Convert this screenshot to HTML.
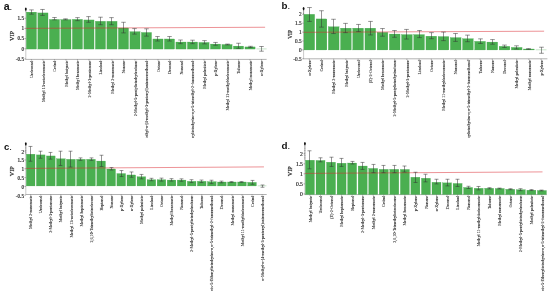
<!DOCTYPE html>
<html lang="en"><head><meta charset="utf-8"><title>VIP scores</title>
<style>html,body{margin:0;padding:0;background:#fff}svg{display:block}.t{font-family:"Liberation Serif","DejaVu Serif",serif;fill:#1a1a1a}.b{stroke:#1a1a1a;stroke-width:.16px}.c{stroke:#1a1a1a;stroke-width:.07px}.l{font-family:"Liberation Sans","DejaVu Sans",sans-serif;font-weight:bold;fill:#111}</style></head><body>
<svg width="550" height="295" viewBox="0 0 550 295">
<rect width="550" height="295" fill="#fff"/>
<g id="chart-a">
<clipPath id="clip-a"><rect x="-0.2" y="0" width="275" height="137.8"/></clipPath>
<text class="l" x="3.7" y="9.7" font-size="10.6">a<tspan fill="#333" font-size="7.5" dx="0.2">.</tspan></text>
<path d="M25.80 8.50V59.40" stroke="#9a9a9a" stroke-width="0.55" fill="none"/>
<path d="M25.80 8.50V12.12" stroke="#333" stroke-width="0.5" stroke-dasharray="1.2 0.5" fill="none"/>
<path d="M25.55 59.40H266.60" stroke="#7d7d7d" stroke-width="0.6" fill="none"/>
<rect x="26.35" y="12.12" width="10.15" height="36.93" fill="#4aaf50" stroke="#3a9f43" stroke-width="0.25"/>
<rect x="37.86" y="12.93" width="10.15" height="36.12" fill="#4aaf50" stroke="#3a9f43" stroke-width="0.25"/>
<rect x="49.36" y="19.45" width="10.15" height="29.60" fill="#4aaf50" stroke="#3a9f43" stroke-width="0.25"/>
<rect x="60.87" y="19.55" width="10.15" height="29.50" fill="#4aaf50" stroke="#3a9f43" stroke-width="0.25"/>
<rect x="72.37" y="19.34" width="10.15" height="29.71" fill="#4aaf50" stroke="#3a9f43" stroke-width="0.25"/>
<rect x="83.88" y="19.95" width="10.15" height="29.10" fill="#4aaf50" stroke="#3a9f43" stroke-width="0.25"/>
<rect x="95.38" y="21.28" width="10.15" height="27.77" fill="#4aaf50" stroke="#3a9f43" stroke-width="0.25"/>
<rect x="106.89" y="21.28" width="10.15" height="27.77" fill="#4aaf50" stroke="#3a9f43" stroke-width="0.25"/>
<rect x="118.39" y="27.99" width="10.15" height="21.06" fill="#4aaf50" stroke="#3a9f43" stroke-width="0.25"/>
<rect x="129.90" y="31.66" width="10.15" height="17.39" fill="#4aaf50" stroke="#3a9f43" stroke-width="0.25"/>
<rect x="141.40" y="32.47" width="10.15" height="16.58" fill="#4aaf50" stroke="#3a9f43" stroke-width="0.25"/>
<rect x="152.91" y="38.98" width="10.15" height="10.07" fill="#4aaf50" stroke="#3a9f43" stroke-width="0.25"/>
<rect x="164.41" y="38.98" width="10.15" height="10.07" fill="#4aaf50" stroke="#3a9f43" stroke-width="0.25"/>
<rect x="175.91" y="42.03" width="10.15" height="7.02" fill="#4aaf50" stroke="#3a9f43" stroke-width="0.25"/>
<rect x="187.42" y="42.03" width="10.15" height="7.02" fill="#4aaf50" stroke="#3a9f43" stroke-width="0.25"/>
<rect x="198.93" y="42.44" width="10.15" height="6.61" fill="#4aaf50" stroke="#3a9f43" stroke-width="0.25"/>
<rect x="210.43" y="44.07" width="10.15" height="4.98" fill="#4aaf50" stroke="#3a9f43" stroke-width="0.25"/>
<rect x="221.94" y="44.48" width="10.15" height="4.57" fill="#4aaf50" stroke="#3a9f43" stroke-width="0.25"/>
<rect x="233.44" y="46.10" width="10.15" height="2.95" fill="#4aaf50" stroke="#3a9f43" stroke-width="0.25"/>
<rect x="244.95" y="46.92" width="10.15" height="2.13" fill="#4aaf50" stroke="#3a9f43" stroke-width="0.25"/>
<line x1="256.45" y1="48.90" x2="266.60" y2="48.90" stroke="#4aaf50" stroke-width="0.5" stroke-opacity="0.6"/>
<line x1="25.80" y1="28.35" x2="265.10" y2="27.25" stroke="#dc2830" stroke-width="1" stroke-opacity="0.5"/>
<path d="M31.50 9.88V14.16M29.27 9.88h4.47M29.27 14.16h4.47" stroke="#333" stroke-width="0.52" fill="none"/>
<path d="M42.50 9.47V15.38M40.27 9.47h4.47M40.27 15.38h4.47" stroke="#333" stroke-width="0.52" fill="none"/>
<path d="M54.50 17.51V19.85M52.27 17.51h4.47M52.27 19.85h4.47" stroke="#333" stroke-width="0.52" fill="none"/>
<path d="M65.50 18.84V19.85M63.27 18.84h4.47M63.27 19.85h4.47" stroke="#333" stroke-width="0.52" fill="none"/>
<path d="M77.50 17.61V20.67M75.27 17.61h4.47M75.27 20.67h4.47" stroke="#333" stroke-width="0.52" fill="none"/>
<path d="M88.50 16.60V22.29M86.27 16.60h4.47M86.27 22.29h4.47" stroke="#333" stroke-width="0.52" fill="none"/>
<path d="M100.50 17.21V24.74M98.27 17.21h4.47M98.27 24.74h4.47" stroke="#333" stroke-width="0.52" fill="none"/>
<path d="M111.50 17.61V24.74M109.27 17.61h4.47M109.27 24.74h4.47" stroke="#333" stroke-width="0.52" fill="none"/>
<path d="M123.50 22.29V32.88M121.27 22.29h4.47M121.27 32.88h4.47" stroke="#333" stroke-width="0.52" fill="none"/>
<path d="M134.50 28.60V34.10M132.27 28.60h4.47M132.27 34.10h4.47" stroke="#333" stroke-width="0.52" fill="none"/>
<path d="M146.50 28.81V36.13M144.27 28.81h4.47M144.27 36.13h4.47" stroke="#333" stroke-width="0.52" fill="none"/>
<path d="M157.50 36.54V41.02M155.27 36.54h4.47M155.27 41.02h4.47" stroke="#333" stroke-width="0.52" fill="none"/>
<path d="M169.50 36.54V41.02M167.27 36.54h4.47M167.27 41.02h4.47" stroke="#333" stroke-width="0.52" fill="none"/>
<path d="M180.50 40.00V43.66M178.27 40.00h4.47M178.27 43.66h4.47" stroke="#333" stroke-width="0.52" fill="none"/>
<path d="M192.50 40.20V43.66M190.27 40.20h4.47M190.27 43.66h4.47" stroke="#333" stroke-width="0.52" fill="none"/>
<path d="M204.50 40.61V43.87M202.27 40.61h4.47M202.27 43.87h4.47" stroke="#333" stroke-width="0.52" fill="none"/>
<path d="M215.50 42.44V45.29M213.27 42.44h4.47M213.27 45.29h4.47" stroke="#333" stroke-width="0.52" fill="none"/>
<path d="M227.50 44.07V44.88M225.27 44.07h4.47M225.27 44.88h4.47" stroke="#333" stroke-width="0.52" fill="none"/>
<path d="M238.50 43.26V48.34M236.27 43.26h4.47M236.27 48.34h4.47" stroke="#333" stroke-width="0.52" fill="none"/>
<path d="M250.50 46.31V47.53M248.27 46.31h4.47M248.27 47.53h4.47" stroke="#333" stroke-width="0.52" fill="none"/>
<path d="M261.50 46.51V51.19M259.27 46.51h4.47M259.27 51.19h4.47" stroke="#333" stroke-width="0.52" fill="none"/>
<ellipse cx="25.80" cy="9.10" rx="0.9" ry="1.6" fill="#111"/>
<line x1="24.50" y1="18.22" x2="25.80" y2="18.22" stroke="#555" stroke-width="0.5"/>
<text class="t b" x="24.10" y="20.03" font-size="5.3" text-anchor="end">1.5</text>
<line x1="24.50" y1="28.40" x2="25.80" y2="28.40" stroke="#555" stroke-width="0.5"/>
<text class="t b" x="24.10" y="30.20" font-size="5.3" text-anchor="end">1</text>
<line x1="24.50" y1="38.58" x2="25.80" y2="38.58" stroke="#555" stroke-width="0.5"/>
<text class="t b" x="24.10" y="40.38" font-size="5.3" text-anchor="end">0.5</text>
<line x1="24.50" y1="48.75" x2="25.80" y2="48.75" stroke="#555" stroke-width="0.5"/>
<text class="t b" x="24.10" y="50.55" font-size="5.3" text-anchor="end">0</text>
<line x1="24.50" y1="58.92" x2="25.80" y2="58.92" stroke="#555" stroke-width="0.5"/>
<text class="t b" x="24.10" y="60.73" font-size="5.3" text-anchor="end">-0.5</text>
<text class="t b" transform="translate(14.40 36.00) rotate(-90)" font-size="6.2" text-anchor="middle">VIP</text>
<g clip-path="url(#clip-a)">
<line x1="31.43" y1="59.40" x2="31.43" y2="60.50" stroke="#555" stroke-width="0.5"/>
<text class="t c" transform="translate(33.02 60.60) rotate(-90)" font-size="4.10" text-anchor="end">Undecanal</text>
<line x1="42.93" y1="59.40" x2="42.93" y2="60.50" stroke="#555" stroke-width="0.5"/>
<text class="t c" transform="translate(44.53 60.60) rotate(-90)" font-size="4.10" text-anchor="end">Methyl 13-octadecenoate</text>
<line x1="54.44" y1="59.40" x2="54.44" y2="60.50" stroke="#555" stroke-width="0.5"/>
<text class="t c" transform="translate(56.04 60.60) rotate(-90)" font-size="4.10" text-anchor="end">Cedrol</text>
<line x1="65.94" y1="59.40" x2="65.94" y2="60.50" stroke="#555" stroke-width="0.5"/>
<text class="t c" transform="translate(67.54 60.60) rotate(-90)" font-size="4.10" text-anchor="end">Methyl butyrate</text>
<line x1="77.45" y1="59.40" x2="77.45" y2="60.50" stroke="#555" stroke-width="0.5"/>
<text class="t c" transform="translate(79.05 60.60) rotate(-90)" font-size="4.10" text-anchor="end">Methyl hexanoate</text>
<line x1="88.95" y1="59.40" x2="88.95" y2="60.50" stroke="#555" stroke-width="0.5"/>
<text class="t c" transform="translate(90.55 60.60) rotate(-90)" font-size="4.10" text-anchor="end">2-Methyl-3-pentanone</text>
<line x1="100.45" y1="59.40" x2="100.45" y2="60.50" stroke="#555" stroke-width="0.5"/>
<text class="t c" transform="translate(102.05 60.60) rotate(-90)" font-size="4.10" text-anchor="end">Linalool</text>
<line x1="111.96" y1="59.40" x2="111.96" y2="60.50" stroke="#555" stroke-width="0.5"/>
<text class="t c" transform="translate(113.56 60.60) rotate(-90)" font-size="4.10" text-anchor="end">Methyl 2-nonenoate</text>
<line x1="123.47" y1="59.40" x2="123.47" y2="60.50" stroke="#555" stroke-width="0.5"/>
<text class="t c" transform="translate(125.07 60.60) rotate(-90)" font-size="4.10" text-anchor="end">Nonane</text>
<line x1="134.97" y1="59.40" x2="134.97" y2="60.50" stroke="#555" stroke-width="0.5"/>
<text class="t c" transform="translate(136.57 60.60) rotate(-90)" font-size="4.10" text-anchor="end">2-Methyl-5-pentyltetrahydrofuran</text>
<line x1="146.47" y1="59.40" x2="146.47" y2="60.50" stroke="#555" stroke-width="0.5"/>
<text class="t c" transform="translate(148.07 60.60) rotate(-90)" font-size="4.10" text-anchor="end">α-Methyl-α-[4-methyl-3-pentenyl]oxiranemethanol</text>
<line x1="157.98" y1="59.40" x2="157.98" y2="60.50" stroke="#555" stroke-width="0.5"/>
<text class="t c" transform="translate(159.58 60.60) rotate(-90)" font-size="4.10" text-anchor="end">Octane</text>
<line x1="169.48" y1="59.40" x2="169.48" y2="60.50" stroke="#555" stroke-width="0.5"/>
<text class="t c" transform="translate(171.08 60.60) rotate(-90)" font-size="4.10" text-anchor="end">Decanal</text>
<line x1="180.99" y1="59.40" x2="180.99" y2="60.50" stroke="#555" stroke-width="0.5"/>
<text class="t c" transform="translate(182.59 60.60) rotate(-90)" font-size="4.10" text-anchor="end">Nonanal</text>
<line x1="192.50" y1="59.40" x2="192.50" y2="60.50" stroke="#555" stroke-width="0.5"/>
<text class="t c" transform="translate(194.09 60.60) rotate(-90)" font-size="4.10" text-anchor="end">cis-5-Ethenyltetrahydro-α,α-5-trimethyl-2-furanmethanol</text>
<line x1="204.00" y1="59.40" x2="204.00" y2="60.50" stroke="#555" stroke-width="0.5"/>
<text class="t c" transform="translate(205.60 60.60) rotate(-90)" font-size="4.10" text-anchor="end">Methyl palmitate</text>
<line x1="215.50" y1="59.40" x2="215.50" y2="60.50" stroke="#555" stroke-width="0.5"/>
<text class="t c" transform="translate(217.10 60.60) rotate(-90)" font-size="4.10" text-anchor="end">p-Xylene</text>
<line x1="227.01" y1="59.40" x2="227.01" y2="60.50" stroke="#555" stroke-width="0.5"/>
<text class="t c" transform="translate(228.61 60.60) rotate(-90)" font-size="4.10" text-anchor="end">Methyl 11-methyldodecanoate</text>
<line x1="238.51" y1="59.40" x2="238.51" y2="60.50" stroke="#555" stroke-width="0.5"/>
<text class="t c" transform="translate(240.11 60.60) rotate(-90)" font-size="4.10" text-anchor="end">Toluene</text>
<line x1="250.02" y1="59.40" x2="250.02" y2="60.50" stroke="#555" stroke-width="0.5"/>
<text class="t c" transform="translate(251.62 60.60) rotate(-90)" font-size="4.10" text-anchor="end">Methyl nonanoate</text>
<line x1="261.53" y1="59.40" x2="261.53" y2="60.50" stroke="#555" stroke-width="0.5"/>
<text class="t c" transform="translate(263.13 60.60) rotate(-90)" font-size="4.10" text-anchor="end">o-Xylene</text>
</g>
</g>
<g id="chart-b">
<clipPath id="clip-b"><rect x="277.6" y="0" width="275" height="137.6"/></clipPath>
<text class="l" x="281.6" y="9.3" font-size="9.8">b<tspan fill="#333" font-size="7.5" dx="0.2">.</tspan></text>
<path d="M303.60 8.00V58.80" stroke="#9a9a9a" stroke-width="0.55" fill="none"/>
<path d="M303.60 8.00V14.30" stroke="#333" stroke-width="0.5" stroke-dasharray="1.2 0.5" fill="none"/>
<path d="M303.35 58.80H547.40" stroke="#7d7d7d" stroke-width="0.6" fill="none"/>
<rect x="303.95" y="14.30" width="10.70" height="35.65" fill="#4aaf50" stroke="#3a9f43" stroke-width="0.25"/>
<rect x="316.15" y="18.93" width="10.70" height="31.02" fill="#4aaf50" stroke="#3a9f43" stroke-width="0.25"/>
<rect x="328.35" y="26.76" width="10.70" height="23.19" fill="#4aaf50" stroke="#3a9f43" stroke-width="0.25"/>
<rect x="340.55" y="28.18" width="10.70" height="21.77" fill="#4aaf50" stroke="#3a9f43" stroke-width="0.25"/>
<rect x="352.75" y="28.18" width="10.70" height="21.77" fill="#4aaf50" stroke="#3a9f43" stroke-width="0.25"/>
<rect x="364.95" y="28.18" width="10.70" height="21.77" fill="#4aaf50" stroke="#3a9f43" stroke-width="0.25"/>
<rect x="377.15" y="32.37" width="10.70" height="17.58" fill="#4aaf50" stroke="#3a9f43" stroke-width="0.25"/>
<rect x="389.35" y="34.06" width="10.70" height="15.89" fill="#4aaf50" stroke="#3a9f43" stroke-width="0.25"/>
<rect x="401.55" y="34.59" width="10.70" height="15.36" fill="#4aaf50" stroke="#3a9f43" stroke-width="0.25"/>
<rect x="413.75" y="34.59" width="10.70" height="15.36" fill="#4aaf50" stroke="#3a9f43" stroke-width="0.25"/>
<rect x="425.95" y="36.19" width="10.70" height="13.76" fill="#4aaf50" stroke="#3a9f43" stroke-width="0.25"/>
<rect x="438.15" y="36.55" width="10.70" height="13.40" fill="#4aaf50" stroke="#3a9f43" stroke-width="0.25"/>
<rect x="450.35" y="37.62" width="10.70" height="12.33" fill="#4aaf50" stroke="#3a9f43" stroke-width="0.25"/>
<rect x="462.55" y="38.69" width="10.70" height="11.26" fill="#4aaf50" stroke="#3a9f43" stroke-width="0.25"/>
<rect x="474.75" y="41.36" width="10.70" height="8.59" fill="#4aaf50" stroke="#3a9f43" stroke-width="0.25"/>
<rect x="486.95" y="42.07" width="10.70" height="7.88" fill="#4aaf50" stroke="#3a9f43" stroke-width="0.25"/>
<rect x="499.15" y="46.34" width="10.70" height="3.61" fill="#4aaf50" stroke="#3a9f43" stroke-width="0.25"/>
<rect x="511.35" y="47.41" width="10.70" height="2.54" fill="#4aaf50" stroke="#3a9f43" stroke-width="0.25"/>
<rect x="523.55" y="49.01" width="10.70" height="0.94" fill="#4aaf50" stroke="#3a9f43" stroke-width="0.25"/>
<line x1="535.75" y1="49.80" x2="546.45" y2="49.80" stroke="#4aaf50" stroke-width="0.5" stroke-opacity="0.6"/>
<line x1="303.60" y1="32.30" x2="544.10" y2="31.20" stroke="#dc2830" stroke-width="1" stroke-opacity="0.5"/>
<path d="M309.50 7.54V21.42M307.20 7.54h4.60M307.20 21.42h4.60" stroke="#333" stroke-width="0.52" fill="none"/>
<path d="M321.50 10.74V27.12M319.20 10.74h4.60M319.20 27.12h4.60" stroke="#333" stroke-width="0.52" fill="none"/>
<path d="M333.50 19.28V33.52M331.20 19.28h4.60M331.20 33.52h4.60" stroke="#333" stroke-width="0.52" fill="none"/>
<path d="M345.50 23.38V32.63M343.20 23.38h4.60M343.20 32.63h4.60" stroke="#333" stroke-width="0.52" fill="none"/>
<path d="M358.50 24.45V31.57M356.20 24.45h4.60M356.20 31.57h4.60" stroke="#333" stroke-width="0.52" fill="none"/>
<path d="M370.50 21.42V34.95M368.20 21.42h4.60M368.20 34.95h4.60" stroke="#333" stroke-width="0.52" fill="none"/>
<path d="M382.50 28.54V36.19M380.20 28.54h4.60M380.20 36.19h4.60" stroke="#333" stroke-width="0.52" fill="none"/>
<path d="M394.50 30.50V37.26M392.20 30.50h4.60M392.20 37.26h4.60" stroke="#333" stroke-width="0.52" fill="none"/>
<path d="M406.50 29.43V39.04M404.20 29.43h4.60M404.20 39.04h4.60" stroke="#333" stroke-width="0.52" fill="none"/>
<path d="M419.50 30.50V37.62M417.20 30.50h4.60M417.20 37.62h4.60" stroke="#333" stroke-width="0.52" fill="none"/>
<path d="M431.50 32.63V38.69M429.20 32.63h4.60M429.20 38.69h4.60" stroke="#333" stroke-width="0.52" fill="none"/>
<path d="M443.50 32.10V40.64M441.20 32.10h4.60M441.20 40.64h4.60" stroke="#333" stroke-width="0.52" fill="none"/>
<path d="M455.50 33.52V41.36M453.20 33.52h4.60M453.20 41.36h4.60" stroke="#333" stroke-width="0.52" fill="none"/>
<path d="M467.50 35.13V41.71M465.20 35.13h4.60M465.20 41.71h4.60" stroke="#333" stroke-width="0.52" fill="none"/>
<path d="M480.50 38.86V43.49M478.20 38.86h4.60M478.20 43.49h4.60" stroke="#333" stroke-width="0.52" fill="none"/>
<path d="M492.50 39.58V44.20M490.20 39.58h4.60M490.20 44.20h4.60" stroke="#333" stroke-width="0.52" fill="none"/>
<path d="M504.50 45.09V47.41M502.20 45.09h4.60M502.20 47.41h4.60" stroke="#333" stroke-width="0.52" fill="none"/>
<path d="M516.50 45.81V49.01M514.20 45.81h4.60M514.20 49.01h4.60" stroke="#333" stroke-width="0.52" fill="none"/>
<path d="M528.50 48.65V49.37M526.20 48.65h4.60M526.20 49.37h4.60" stroke="#333" stroke-width="0.52" fill="none"/>
<path d="M541.50 47.23V53.28M539.20 47.23h4.60M539.20 53.28h4.60" stroke="#333" stroke-width="0.52" fill="none"/>
<ellipse cx="303.60" cy="8.60" rx="0.9" ry="1.6" fill="#111"/>
<line x1="302.30" y1="14.30" x2="303.60" y2="14.30" stroke="#555" stroke-width="0.5"/>
<text class="t b" x="301.50" y="16.27" font-size="5.2" text-anchor="end">2</text>
<line x1="302.30" y1="23.20" x2="303.60" y2="23.20" stroke="#555" stroke-width="0.5"/>
<text class="t b" x="301.50" y="25.17" font-size="5.2" text-anchor="end">1.5</text>
<line x1="302.30" y1="32.10" x2="303.60" y2="32.10" stroke="#555" stroke-width="0.5"/>
<text class="t b" x="301.50" y="34.07" font-size="5.2" text-anchor="end">1</text>
<line x1="302.30" y1="41.00" x2="303.60" y2="41.00" stroke="#555" stroke-width="0.5"/>
<text class="t b" x="301.50" y="42.97" font-size="5.2" text-anchor="end">0.5</text>
<line x1="302.30" y1="49.90" x2="303.60" y2="49.90" stroke="#555" stroke-width="0.5"/>
<text class="t b" x="301.50" y="51.87" font-size="5.2" text-anchor="end">0</text>
<line x1="302.30" y1="58.80" x2="303.60" y2="58.80" stroke="#555" stroke-width="0.5"/>
<text class="t b" x="301.50" y="60.77" font-size="5.2" text-anchor="end">-0.5</text>
<text class="t b" transform="translate(291.90 34.40) rotate(-90)" font-size="5.8" text-anchor="middle">VIP</text>
<g clip-path="url(#clip-b)">
<line x1="309.30" y1="58.80" x2="309.30" y2="59.90" stroke="#555" stroke-width="0.5"/>
<text class="t c" transform="translate(310.90 60.20) rotate(-90)" font-size="4.15" text-anchor="end">o-Xylene</text>
<line x1="321.50" y1="58.80" x2="321.50" y2="59.90" stroke="#555" stroke-width="0.5"/>
<text class="t c" transform="translate(323.10 60.20) rotate(-90)" font-size="4.15" text-anchor="end">Cedrol</text>
<line x1="333.70" y1="58.80" x2="333.70" y2="59.90" stroke="#555" stroke-width="0.5"/>
<text class="t c" transform="translate(335.30 60.20) rotate(-90)" font-size="4.15" text-anchor="end">Methyl 2-nonenoate</text>
<line x1="345.90" y1="58.80" x2="345.90" y2="59.90" stroke="#555" stroke-width="0.5"/>
<text class="t c" transform="translate(347.50 60.20) rotate(-90)" font-size="4.15" text-anchor="end">Methyl butyrate</text>
<line x1="358.10" y1="58.80" x2="358.10" y2="59.90" stroke="#555" stroke-width="0.5"/>
<text class="t c" transform="translate(359.70 60.20) rotate(-90)" font-size="4.15" text-anchor="end">Undecanal</text>
<line x1="370.30" y1="58.80" x2="370.30" y2="59.90" stroke="#555" stroke-width="0.5"/>
<text class="t c" transform="translate(371.90 60.20) rotate(-90)" font-size="4.15" text-anchor="end">(E)-2-Octenal</text>
<line x1="382.50" y1="58.80" x2="382.50" y2="59.90" stroke="#555" stroke-width="0.5"/>
<text class="t c" transform="translate(384.10 60.20) rotate(-90)" font-size="4.15" text-anchor="end">Methyl hexanoate</text>
<line x1="394.70" y1="58.80" x2="394.70" y2="59.90" stroke="#555" stroke-width="0.5"/>
<text class="t c" transform="translate(396.30 60.20) rotate(-90)" font-size="4.15" text-anchor="end">2-Methyl-5-pentyltetrahydrofuran</text>
<line x1="406.90" y1="58.80" x2="406.90" y2="59.90" stroke="#555" stroke-width="0.5"/>
<text class="t c" transform="translate(408.50 60.20) rotate(-90)" font-size="4.15" text-anchor="end">2-Methyl-3-pentanone</text>
<line x1="419.10" y1="58.80" x2="419.10" y2="59.90" stroke="#555" stroke-width="0.5"/>
<text class="t c" transform="translate(420.70 60.20) rotate(-90)" font-size="4.15" text-anchor="end">Linalool</text>
<line x1="431.30" y1="58.80" x2="431.30" y2="59.90" stroke="#555" stroke-width="0.5"/>
<text class="t c" transform="translate(432.90 60.20) rotate(-90)" font-size="4.15" text-anchor="end">Octane</text>
<line x1="443.50" y1="58.80" x2="443.50" y2="59.90" stroke="#555" stroke-width="0.5"/>
<text class="t c" transform="translate(445.10 60.20) rotate(-90)" font-size="4.15" text-anchor="end">Methyl 11-methyldodecanoate</text>
<line x1="455.70" y1="58.80" x2="455.70" y2="59.90" stroke="#555" stroke-width="0.5"/>
<text class="t c" transform="translate(457.30 60.20) rotate(-90)" font-size="4.15" text-anchor="end">Nonanal</text>
<line x1="467.90" y1="58.80" x2="467.90" y2="59.90" stroke="#555" stroke-width="0.5"/>
<text class="t c" transform="translate(469.50 60.20) rotate(-90)" font-size="4.15" text-anchor="end">cis-5-Ethenyltetrahydro-α,α-5-trimethyl-2-furanmethanol</text>
<line x1="480.10" y1="58.80" x2="480.10" y2="59.90" stroke="#555" stroke-width="0.5"/>
<text class="t c" transform="translate(481.70 60.20) rotate(-90)" font-size="4.15" text-anchor="end">Toluene</text>
<line x1="492.30" y1="58.80" x2="492.30" y2="59.90" stroke="#555" stroke-width="0.5"/>
<text class="t c" transform="translate(493.90 60.20) rotate(-90)" font-size="4.15" text-anchor="end">Nonane</text>
<line x1="504.50" y1="58.80" x2="504.50" y2="59.90" stroke="#555" stroke-width="0.5"/>
<text class="t c" transform="translate(506.10 60.20) rotate(-90)" font-size="4.15" text-anchor="end">Decanal</text>
<line x1="516.70" y1="58.80" x2="516.70" y2="59.90" stroke="#555" stroke-width="0.5"/>
<text class="t c" transform="translate(518.30 60.20) rotate(-90)" font-size="4.15" text-anchor="end">Methyl palmitate</text>
<line x1="528.90" y1="58.80" x2="528.90" y2="59.90" stroke="#555" stroke-width="0.5"/>
<text class="t c" transform="translate(530.50 60.20) rotate(-90)" font-size="4.15" text-anchor="end">Methyl nonanoate</text>
<line x1="541.10" y1="58.80" x2="541.10" y2="59.90" stroke="#555" stroke-width="0.5"/>
<text class="t c" transform="translate(542.70 60.20) rotate(-90)" font-size="4.15" text-anchor="end">p-Xylene</text>
</g>
</g>
<g id="chart-c">
<clipPath id="clip-c"><rect x="-0.2" y="0" width="275" height="295.0"/></clipPath>
<text class="l" x="3.9" y="149.5" font-size="9.5">c<tspan fill="#333" font-size="7.5" dx="0.2">.</tspan></text>
<path d="M25.80 143.20V194.50" stroke="#9a9a9a" stroke-width="0.55" fill="none"/>
<path d="M25.80 143.20V154.19" stroke="#333" stroke-width="0.5" stroke-dasharray="1.2 0.5" fill="none"/>
<path d="M25.55 194.50H266.70" stroke="#7d7d7d" stroke-width="0.6" fill="none"/>
<rect x="26.35" y="154.19" width="8.65" height="31.76" fill="#4aaf50" stroke="#3a9f43" stroke-width="0.25"/>
<rect x="36.41" y="154.90" width="8.65" height="31.05" fill="#4aaf50" stroke="#3a9f43" stroke-width="0.25"/>
<rect x="46.47" y="155.95" width="8.65" height="30.00" fill="#4aaf50" stroke="#3a9f43" stroke-width="0.25"/>
<rect x="56.54" y="158.77" width="8.65" height="27.18" fill="#4aaf50" stroke="#3a9f43" stroke-width="0.25"/>
<rect x="66.60" y="159.30" width="8.65" height="26.65" fill="#4aaf50" stroke="#3a9f43" stroke-width="0.25"/>
<rect x="76.66" y="159.30" width="8.65" height="26.65" fill="#4aaf50" stroke="#3a9f43" stroke-width="0.25"/>
<rect x="86.72" y="159.30" width="8.65" height="26.65" fill="#4aaf50" stroke="#3a9f43" stroke-width="0.25"/>
<rect x="96.78" y="161.06" width="8.65" height="24.89" fill="#4aaf50" stroke="#3a9f43" stroke-width="0.25"/>
<rect x="106.85" y="168.98" width="8.65" height="16.97" fill="#4aaf50" stroke="#3a9f43" stroke-width="0.25"/>
<rect x="116.91" y="173.55" width="8.65" height="12.40" fill="#4aaf50" stroke="#3a9f43" stroke-width="0.25"/>
<rect x="126.97" y="174.96" width="8.65" height="10.99" fill="#4aaf50" stroke="#3a9f43" stroke-width="0.25"/>
<rect x="137.03" y="176.72" width="8.65" height="9.23" fill="#4aaf50" stroke="#3a9f43" stroke-width="0.25"/>
<rect x="147.09" y="179.71" width="8.65" height="6.24" fill="#4aaf50" stroke="#3a9f43" stroke-width="0.25"/>
<rect x="157.16" y="179.71" width="8.65" height="6.24" fill="#4aaf50" stroke="#3a9f43" stroke-width="0.25"/>
<rect x="167.22" y="180.06" width="8.65" height="5.89" fill="#4aaf50" stroke="#3a9f43" stroke-width="0.25"/>
<rect x="177.28" y="180.06" width="8.65" height="5.89" fill="#4aaf50" stroke="#3a9f43" stroke-width="0.25"/>
<rect x="187.34" y="181.30" width="8.65" height="4.65" fill="#4aaf50" stroke="#3a9f43" stroke-width="0.25"/>
<rect x="197.40" y="181.30" width="8.65" height="4.65" fill="#4aaf50" stroke="#3a9f43" stroke-width="0.25"/>
<rect x="207.47" y="181.65" width="8.65" height="4.30" fill="#4aaf50" stroke="#3a9f43" stroke-width="0.25"/>
<rect x="217.53" y="182.00" width="8.65" height="3.95" fill="#4aaf50" stroke="#3a9f43" stroke-width="0.25"/>
<rect x="227.59" y="182.00" width="8.65" height="3.95" fill="#4aaf50" stroke="#3a9f43" stroke-width="0.25"/>
<rect x="237.65" y="182.00" width="8.65" height="3.95" fill="#4aaf50" stroke="#3a9f43" stroke-width="0.25"/>
<rect x="247.71" y="182.35" width="8.65" height="3.60" fill="#4aaf50" stroke="#3a9f43" stroke-width="0.25"/>
<line x1="257.78" y1="185.80" x2="266.43" y2="185.80" stroke="#4aaf50" stroke-width="0.5" stroke-opacity="0.6"/>
<line x1="25.80" y1="168.40" x2="263.95" y2="166.90" stroke="#dc2830" stroke-width="1" stroke-opacity="0.5"/>
<path d="M30.50 146.45V161.23M28.60 146.45h3.81M28.60 161.23h3.81" stroke="#333" stroke-width="0.52" fill="none"/>
<path d="M40.50 151.20V158.24M38.60 151.20h3.81M38.60 158.24h3.81" stroke="#333" stroke-width="0.52" fill="none"/>
<path d="M50.50 152.43V159.12M48.60 152.43h3.81M48.60 159.12h3.81" stroke="#333" stroke-width="0.52" fill="none"/>
<path d="M60.50 151.20V165.46M58.60 151.20h3.81M58.60 165.46h3.81" stroke="#333" stroke-width="0.52" fill="none"/>
<path d="M70.50 151.20V167.04M68.60 151.20h3.81M68.60 167.04h3.81" stroke="#333" stroke-width="0.52" fill="none"/>
<path d="M80.50 157.89V160.35M78.60 157.89h3.81M78.60 160.35h3.81" stroke="#333" stroke-width="0.52" fill="none"/>
<path d="M91.50 157.89V160.35M89.60 157.89h3.81M89.60 160.35h3.81" stroke="#333" stroke-width="0.52" fill="none"/>
<path d="M101.50 155.25V166.51M99.60 155.25h3.81M99.60 166.51h3.81" stroke="#333" stroke-width="0.52" fill="none"/>
<path d="M111.50 167.57V170.03M109.60 167.57h3.81M109.60 170.03h3.81" stroke="#333" stroke-width="0.52" fill="none"/>
<path d="M121.50 170.56V176.54M119.60 170.56h3.81M119.60 176.54h3.81" stroke="#333" stroke-width="0.52" fill="none"/>
<path d="M131.50 171.97V177.25M129.60 171.97h3.81M129.60 177.25h3.81" stroke="#333" stroke-width="0.52" fill="none"/>
<path d="M141.50 174.43V178.83M139.60 174.43h3.81M139.60 178.83h3.81" stroke="#333" stroke-width="0.52" fill="none"/>
<path d="M151.50 178.30V180.77M149.60 178.30h3.81M149.60 180.77h3.81" stroke="#333" stroke-width="0.52" fill="none"/>
<path d="M161.50 178.13V181.12M159.60 178.13h3.81M159.60 181.12h3.81" stroke="#333" stroke-width="0.52" fill="none"/>
<path d="M171.50 178.66V181.12M169.60 178.66h3.81M169.60 181.12h3.81" stroke="#333" stroke-width="0.52" fill="none"/>
<path d="M181.50 178.83V181.30M179.60 178.83h3.81M179.60 181.30h3.81" stroke="#333" stroke-width="0.52" fill="none"/>
<path d="M191.50 179.71V182.53M189.60 179.71h3.81M189.60 182.53h3.81" stroke="#333" stroke-width="0.52" fill="none"/>
<path d="M201.50 180.06V182.53M199.60 180.06h3.81M199.60 182.53h3.81" stroke="#333" stroke-width="0.52" fill="none"/>
<path d="M211.50 180.24V183.58M209.60 180.24h3.81M209.60 183.58h3.81" stroke="#333" stroke-width="0.52" fill="none"/>
<path d="M221.50 181.12V182.88M219.60 181.12h3.81M219.60 182.88h3.81" stroke="#333" stroke-width="0.52" fill="none"/>
<path d="M231.50 181.65V182.35M229.60 181.65h3.81M229.60 182.35h3.81" stroke="#333" stroke-width="0.52" fill="none"/>
<path d="M241.50 181.65V182.35M239.60 181.65h3.81M239.60 182.35h3.81" stroke="#333" stroke-width="0.52" fill="none"/>
<path d="M252.50 180.42V184.29M250.60 180.42h3.81M250.60 184.29h3.81" stroke="#333" stroke-width="0.52" fill="none"/>
<path d="M262.50 184.99V187.28M260.60 184.99h3.81M260.60 187.28h3.81" stroke="#333" stroke-width="0.52" fill="none"/>
<ellipse cx="25.80" cy="143.80" rx="0.9" ry="1.6" fill="#111"/>
<line x1="24.50" y1="151.20" x2="25.80" y2="151.20" stroke="#555" stroke-width="0.5"/>
<text class="t b" x="24.10" y="153.60" font-size="5.3" text-anchor="end">2</text>
<line x1="24.50" y1="160.00" x2="25.80" y2="160.00" stroke="#555" stroke-width="0.5"/>
<text class="t b" x="24.10" y="162.40" font-size="5.3" text-anchor="end">1.5</text>
<line x1="24.50" y1="168.80" x2="25.80" y2="168.80" stroke="#555" stroke-width="0.5"/>
<text class="t b" x="24.10" y="171.20" font-size="5.3" text-anchor="end">1</text>
<line x1="24.50" y1="177.60" x2="25.80" y2="177.60" stroke="#555" stroke-width="0.5"/>
<text class="t b" x="24.10" y="180.00" font-size="5.3" text-anchor="end">0.5</text>
<line x1="24.50" y1="186.40" x2="25.80" y2="186.40" stroke="#555" stroke-width="0.5"/>
<text class="t b" x="24.10" y="188.80" font-size="5.3" text-anchor="end">0</text>
<line x1="24.50" y1="195.20" x2="25.80" y2="195.20" stroke="#555" stroke-width="0.5"/>
<text class="t b" x="24.10" y="197.60" font-size="5.3" text-anchor="end">-0.5</text>
<text class="t b" transform="translate(13.50 171.30) rotate(-90)" font-size="6.1" text-anchor="middle">VIP</text>
<g clip-path="url(#clip-c)">
<line x1="30.68" y1="194.50" x2="30.68" y2="195.60" stroke="#555" stroke-width="0.5"/>
<text class="t c" transform="translate(32.27 195.60) rotate(-90)" font-size="4.15" text-anchor="end">Methyl 2-nonenoate</text>
<line x1="40.74" y1="194.50" x2="40.74" y2="195.60" stroke="#555" stroke-width="0.5"/>
<text class="t c" transform="translate(42.34 195.60) rotate(-90)" font-size="4.15" text-anchor="end">Undecanal</text>
<line x1="50.80" y1="194.50" x2="50.80" y2="195.60" stroke="#555" stroke-width="0.5"/>
<text class="t c" transform="translate(52.40 195.60) rotate(-90)" font-size="4.15" text-anchor="end">2-Methyl-3-pentanone</text>
<line x1="60.86" y1="194.50" x2="60.86" y2="195.60" stroke="#555" stroke-width="0.5"/>
<text class="t c" transform="translate(62.46 195.60) rotate(-90)" font-size="4.15" text-anchor="end">Methyl butyrate</text>
<line x1="70.92" y1="194.50" x2="70.92" y2="195.60" stroke="#555" stroke-width="0.5"/>
<text class="t c" transform="translate(72.52 195.60) rotate(-90)" font-size="4.15" text-anchor="end">Methyl 13-octadecenoate</text>
<line x1="80.98" y1="194.50" x2="80.98" y2="195.60" stroke="#555" stroke-width="0.5"/>
<text class="t c" transform="translate(82.58 195.60) rotate(-90)" font-size="4.15" text-anchor="end">Methyl heptanoate</text>
<line x1="91.05" y1="194.50" x2="91.05" y2="195.60" stroke="#555" stroke-width="0.5"/>
<text class="t c" transform="translate(92.65 195.60) rotate(-90)" font-size="4.15" text-anchor="end">2,6,10-Trimethyltetradecane</text>
<line x1="101.11" y1="194.50" x2="101.11" y2="195.60" stroke="#555" stroke-width="0.5"/>
<text class="t c" transform="translate(102.71 195.60) rotate(-90)" font-size="4.15" text-anchor="end">Heptanal</text>
<line x1="111.17" y1="194.50" x2="111.17" y2="195.60" stroke="#555" stroke-width="0.5"/>
<text class="t c" transform="translate(112.77 195.60) rotate(-90)" font-size="4.15" text-anchor="end">Nonane</text>
<line x1="121.23" y1="194.50" x2="121.23" y2="195.60" stroke="#555" stroke-width="0.5"/>
<text class="t c" transform="translate(122.83 195.60) rotate(-90)" font-size="4.15" text-anchor="end">p-Xylene</text>
<line x1="131.29" y1="194.50" x2="131.29" y2="195.60" stroke="#555" stroke-width="0.5"/>
<text class="t c" transform="translate(132.89 195.60) rotate(-90)" font-size="4.15" text-anchor="end">o-Xylene</text>
<line x1="141.36" y1="194.50" x2="141.36" y2="195.60" stroke="#555" stroke-width="0.5"/>
<text class="t c" transform="translate(142.96 195.60) rotate(-90)" font-size="4.15" text-anchor="end">Methyl palmitate</text>
<line x1="151.42" y1="194.50" x2="151.42" y2="195.60" stroke="#555" stroke-width="0.5"/>
<text class="t c" transform="translate(153.02 195.60) rotate(-90)" font-size="4.15" text-anchor="end">Linalool</text>
<line x1="161.48" y1="194.50" x2="161.48" y2="195.60" stroke="#555" stroke-width="0.5"/>
<text class="t c" transform="translate(163.08 195.60) rotate(-90)" font-size="4.15" text-anchor="end">Octane</text>
<line x1="171.54" y1="194.50" x2="171.54" y2="195.60" stroke="#555" stroke-width="0.5"/>
<text class="t c" transform="translate(173.14 195.60) rotate(-90)" font-size="4.15" text-anchor="end">Methyl hexanoate</text>
<line x1="181.60" y1="194.50" x2="181.60" y2="195.60" stroke="#555" stroke-width="0.5"/>
<text class="t c" transform="translate(183.20 195.60) rotate(-90)" font-size="4.15" text-anchor="end">Nonanal</text>
<line x1="191.67" y1="194.50" x2="191.67" y2="195.60" stroke="#555" stroke-width="0.5"/>
<text class="t c" transform="translate(193.27 195.60) rotate(-90)" font-size="4.15" text-anchor="end">2-Methyl-5-pentyltetrahydrofuran</text>
<line x1="201.73" y1="194.50" x2="201.73" y2="195.60" stroke="#555" stroke-width="0.5"/>
<text class="t c" transform="translate(203.33 195.60) rotate(-90)" font-size="4.15" text-anchor="end">Toluene</text>
<line x1="211.79" y1="194.50" x2="211.79" y2="195.60" stroke="#555" stroke-width="0.5"/>
<text class="t c" transform="translate(213.39 195.60) rotate(-90)" font-size="4.15" text-anchor="end">cis-5-Ethenyltetrahydro-α,α-5-trimethyl-2-furanmethanol</text>
<line x1="221.85" y1="194.50" x2="221.85" y2="195.60" stroke="#555" stroke-width="0.5"/>
<text class="t c" transform="translate(223.45 195.60) rotate(-90)" font-size="4.15" text-anchor="end">Decanal</text>
<line x1="231.91" y1="194.50" x2="231.91" y2="195.60" stroke="#555" stroke-width="0.5"/>
<text class="t c" transform="translate(233.51 195.60) rotate(-90)" font-size="4.15" text-anchor="end">Methyl nonanoate</text>
<line x1="241.98" y1="194.50" x2="241.98" y2="195.60" stroke="#555" stroke-width="0.5"/>
<text class="t c" transform="translate(243.58 195.60) rotate(-90)" font-size="4.15" text-anchor="end">Methyl 11-methyldodecanoate</text>
<line x1="252.04" y1="194.50" x2="252.04" y2="195.60" stroke="#555" stroke-width="0.5"/>
<text class="t c" transform="translate(253.64 195.60) rotate(-90)" font-size="4.15" text-anchor="end">Cedrol</text>
<line x1="262.10" y1="194.50" x2="262.10" y2="195.60" stroke="#555" stroke-width="0.5"/>
<text class="t c" transform="translate(263.70 195.60) rotate(-90)" font-size="4.15" text-anchor="end">α-Methyl-α-[4-methyl-3-pentenyl]oxiranemethanol</text>
</g>
</g>
<g id="chart-d">
<clipPath id="clip-d"><rect x="278.9" y="0" width="275" height="295.0"/></clipPath>
<text class="l" x="281.6" y="149.3" font-size="9.8">d<tspan fill="#333" font-size="7.5" dx="0.2">.</tspan></text>
<path d="M304.90 143.00V194.60" stroke="#9a9a9a" stroke-width="0.55" fill="none"/>
<path d="M304.90 143.00V160.22" stroke="#333" stroke-width="0.5" stroke-dasharray="1.2 0.5" fill="none"/>
<path d="M304.65 194.60H546.90" stroke="#7d7d7d" stroke-width="0.6" fill="none"/>
<rect x="305.45" y="160.22" width="9.00" height="34.28" fill="#4aaf50" stroke="#3a9f43" stroke-width="0.25"/>
<rect x="316.00" y="160.42" width="9.00" height="34.08" fill="#4aaf50" stroke="#3a9f43" stroke-width="0.25"/>
<rect x="326.54" y="162.22" width="9.00" height="32.28" fill="#4aaf50" stroke="#3a9f43" stroke-width="0.25"/>
<rect x="337.08" y="163.22" width="9.00" height="31.28" fill="#4aaf50" stroke="#3a9f43" stroke-width="0.25"/>
<rect x="347.63" y="163.02" width="9.00" height="31.48" fill="#4aaf50" stroke="#3a9f43" stroke-width="0.25"/>
<rect x="358.18" y="166.03" width="9.00" height="28.47" fill="#4aaf50" stroke="#3a9f43" stroke-width="0.25"/>
<rect x="368.72" y="168.44" width="9.00" height="26.06" fill="#4aaf50" stroke="#3a9f43" stroke-width="0.25"/>
<rect x="379.26" y="169.34" width="9.00" height="25.16" fill="#4aaf50" stroke="#3a9f43" stroke-width="0.25"/>
<rect x="389.81" y="169.34" width="9.00" height="25.16" fill="#4aaf50" stroke="#3a9f43" stroke-width="0.25"/>
<rect x="400.36" y="169.44" width="9.00" height="25.06" fill="#4aaf50" stroke="#3a9f43" stroke-width="0.25"/>
<rect x="410.90" y="177.26" width="9.00" height="17.24" fill="#4aaf50" stroke="#3a9f43" stroke-width="0.25"/>
<rect x="421.44" y="178.26" width="9.00" height="16.24" fill="#4aaf50" stroke="#3a9f43" stroke-width="0.25"/>
<rect x="431.99" y="182.27" width="9.00" height="12.23" fill="#4aaf50" stroke="#3a9f43" stroke-width="0.25"/>
<rect x="442.53" y="182.87" width="9.00" height="11.63" fill="#4aaf50" stroke="#3a9f43" stroke-width="0.25"/>
<rect x="453.08" y="183.47" width="9.00" height="11.03" fill="#4aaf50" stroke="#3a9f43" stroke-width="0.25"/>
<rect x="463.62" y="187.48" width="9.00" height="7.02" fill="#4aaf50" stroke="#3a9f43" stroke-width="0.25"/>
<rect x="474.17" y="188.29" width="9.00" height="6.21" fill="#4aaf50" stroke="#3a9f43" stroke-width="0.25"/>
<rect x="484.71" y="188.29" width="9.00" height="6.21" fill="#4aaf50" stroke="#3a9f43" stroke-width="0.25"/>
<rect x="495.26" y="188.49" width="9.00" height="6.01" fill="#4aaf50" stroke="#3a9f43" stroke-width="0.25"/>
<rect x="505.80" y="189.29" width="9.00" height="5.21" fill="#4aaf50" stroke="#3a9f43" stroke-width="0.25"/>
<rect x="516.35" y="189.69" width="9.00" height="4.81" fill="#4aaf50" stroke="#3a9f43" stroke-width="0.25"/>
<rect x="526.89" y="190.19" width="9.00" height="4.31" fill="#4aaf50" stroke="#3a9f43" stroke-width="0.25"/>
<rect x="537.44" y="190.49" width="9.00" height="4.01" fill="#4aaf50" stroke="#3a9f43" stroke-width="0.25"/>
<line x1="304.90" y1="173.40" x2="542.50" y2="171.90" stroke="#dc2830" stroke-width="1" stroke-opacity="0.5"/>
<path d="M309.50 150.79V168.84M307.52 150.79h3.96M307.52 168.84h3.96" stroke="#333" stroke-width="0.52" fill="none"/>
<path d="M320.50 157.81V161.82M318.52 157.81h3.96M318.52 161.82h3.96" stroke="#333" stroke-width="0.52" fill="none"/>
<path d="M331.50 157.21V166.43M329.52 157.21h3.96M329.52 166.43h3.96" stroke="#333" stroke-width="0.52" fill="none"/>
<path d="M341.50 158.41V166.43M339.52 158.41h3.96M339.52 166.43h3.96" stroke="#333" stroke-width="0.52" fill="none"/>
<path d="M352.50 161.42V164.03M350.52 161.42h3.96M350.52 164.03h3.96" stroke="#333" stroke-width="0.52" fill="none"/>
<path d="M362.50 162.42V169.44M360.52 162.42h3.96M360.52 169.44h3.96" stroke="#333" stroke-width="0.52" fill="none"/>
<path d="M373.50 164.43V172.65M371.52 164.43h3.96M371.52 172.65h3.96" stroke="#333" stroke-width="0.52" fill="none"/>
<path d="M383.50 165.43V172.65M381.52 165.43h3.96M381.52 172.65h3.96" stroke="#333" stroke-width="0.52" fill="none"/>
<path d="M394.50 165.43V172.65M392.52 165.43h3.96M392.52 172.65h3.96" stroke="#333" stroke-width="0.52" fill="none"/>
<path d="M404.50 166.03V172.05M402.52 166.03h3.96M402.52 172.05h3.96" stroke="#333" stroke-width="0.52" fill="none"/>
<path d="M415.50 172.25V182.47M413.52 172.25h3.96M413.52 182.47h3.96" stroke="#333" stroke-width="0.52" fill="none"/>
<path d="M425.50 174.25V181.87M423.52 174.25h3.96M423.52 181.87h3.96" stroke="#333" stroke-width="0.52" fill="none"/>
<path d="M436.50 179.26V183.88M434.52 179.26h3.96M434.52 183.88h3.96" stroke="#333" stroke-width="0.52" fill="none"/>
<path d="M447.50 179.26V185.88M445.52 179.26h3.96M445.52 185.88h3.96" stroke="#333" stroke-width="0.52" fill="none"/>
<path d="M457.50 179.26V186.48M455.52 179.26h3.96M455.52 186.48h3.96" stroke="#333" stroke-width="0.52" fill="none"/>
<path d="M468.50 186.28V188.49M466.52 186.28h3.96M466.52 188.49h3.96" stroke="#333" stroke-width="0.52" fill="none"/>
<path d="M478.50 186.48V189.89M476.52 186.48h3.96M476.52 189.89h3.96" stroke="#333" stroke-width="0.52" fill="none"/>
<path d="M489.50 187.68V188.89M487.52 187.68h3.96M487.52 188.89h3.96" stroke="#333" stroke-width="0.52" fill="none"/>
<path d="M499.50 188.09V188.89M497.52 188.09h3.96M497.52 188.89h3.96" stroke="#333" stroke-width="0.52" fill="none"/>
<path d="M510.50 188.69V189.69M508.52 188.69h3.96M508.52 189.69h3.96" stroke="#333" stroke-width="0.52" fill="none"/>
<path d="M520.50 188.69V190.69M518.52 188.69h3.96M518.52 190.69h3.96" stroke="#333" stroke-width="0.52" fill="none"/>
<path d="M531.50 189.59V190.59M529.52 189.59h3.96M529.52 190.59h3.96" stroke="#333" stroke-width="0.52" fill="none"/>
<path d="M541.50 190.09V190.89M539.52 190.09h3.96M539.52 190.89h3.96" stroke="#333" stroke-width="0.52" fill="none"/>
<ellipse cx="304.90" cy="143.60" rx="0.9" ry="1.6" fill="#111"/>
<line x1="303.60" y1="153.80" x2="304.90" y2="153.80" stroke="#555" stroke-width="0.5"/>
<text class="t b" x="302.90" y="155.50" font-size="5.6" text-anchor="end">2</text>
<line x1="303.60" y1="163.82" x2="304.90" y2="163.82" stroke="#555" stroke-width="0.5"/>
<text class="t b" x="302.90" y="165.53" font-size="5.6" text-anchor="end">1.5</text>
<line x1="303.60" y1="173.85" x2="304.90" y2="173.85" stroke="#555" stroke-width="0.5"/>
<text class="t b" x="302.90" y="175.55" font-size="5.6" text-anchor="end">1</text>
<line x1="303.60" y1="183.88" x2="304.90" y2="183.88" stroke="#555" stroke-width="0.5"/>
<text class="t b" x="302.90" y="185.58" font-size="5.6" text-anchor="end">0.5</text>
<line x1="303.60" y1="193.90" x2="304.90" y2="193.90" stroke="#555" stroke-width="0.5"/>
<text class="t b" x="302.90" y="195.60" font-size="5.6" text-anchor="end">0</text>
<text class="t b" transform="translate(291.80 171.20) rotate(-90)" font-size="6.2" text-anchor="middle">VIP</text>
<g clip-path="url(#clip-d)">
<line x1="309.95" y1="194.60" x2="309.95" y2="195.70" stroke="#555" stroke-width="0.5"/>
<text class="t c" transform="translate(311.55 195.80) rotate(-90)" font-size="4.15" text-anchor="end">Methyl butyrate</text>
<line x1="320.50" y1="194.60" x2="320.50" y2="195.70" stroke="#555" stroke-width="0.5"/>
<text class="t c" transform="translate(322.10 195.80) rotate(-90)" font-size="4.15" text-anchor="end">Undecanal</text>
<line x1="331.04" y1="194.60" x2="331.04" y2="195.70" stroke="#555" stroke-width="0.5"/>
<text class="t c" transform="translate(332.64 195.80) rotate(-90)" font-size="4.15" text-anchor="end">(E)-2-Octenal</text>
<line x1="341.58" y1="194.60" x2="341.58" y2="195.70" stroke="#555" stroke-width="0.5"/>
<text class="t c" transform="translate(343.19 195.80) rotate(-90)" font-size="4.15" text-anchor="end">Methyl heptanoate</text>
<line x1="352.13" y1="194.60" x2="352.13" y2="195.70" stroke="#555" stroke-width="0.5"/>
<text class="t c" transform="translate(353.73 195.80) rotate(-90)" font-size="4.15" text-anchor="end">Heptanal</text>
<line x1="362.68" y1="194.60" x2="362.68" y2="195.70" stroke="#555" stroke-width="0.5"/>
<text class="t c" transform="translate(364.28 195.80) rotate(-90)" font-size="4.15" text-anchor="end">2-Methyl-3-pentanone</text>
<line x1="373.22" y1="194.60" x2="373.22" y2="195.70" stroke="#555" stroke-width="0.5"/>
<text class="t c" transform="translate(374.82 195.80) rotate(-90)" font-size="4.15" text-anchor="end">Methyl 2-nonenoate</text>
<line x1="383.76" y1="194.60" x2="383.76" y2="195.70" stroke="#555" stroke-width="0.5"/>
<text class="t c" transform="translate(385.37 195.80) rotate(-90)" font-size="4.15" text-anchor="end">Cedrol</text>
<line x1="394.31" y1="194.60" x2="394.31" y2="195.70" stroke="#555" stroke-width="0.5"/>
<text class="t c" transform="translate(395.91 195.80) rotate(-90)" font-size="4.15" text-anchor="end">2,6,10-Trimethyltetradecane</text>
<line x1="404.86" y1="194.60" x2="404.86" y2="195.70" stroke="#555" stroke-width="0.5"/>
<text class="t c" transform="translate(406.46 195.80) rotate(-90)" font-size="4.15" text-anchor="end">Methyl hexanoate</text>
<line x1="415.40" y1="194.60" x2="415.40" y2="195.70" stroke="#555" stroke-width="0.5"/>
<text class="t c" transform="translate(417.00 195.80) rotate(-90)" font-size="4.15" text-anchor="end">p-Xylene</text>
<line x1="425.94" y1="194.60" x2="425.94" y2="195.70" stroke="#555" stroke-width="0.5"/>
<text class="t c" transform="translate(427.55 195.80) rotate(-90)" font-size="4.15" text-anchor="end">Nonane</text>
<line x1="436.49" y1="194.60" x2="436.49" y2="195.70" stroke="#555" stroke-width="0.5"/>
<text class="t c" transform="translate(438.09 195.80) rotate(-90)" font-size="4.15" text-anchor="end">o-Xylene</text>
<line x1="447.03" y1="194.60" x2="447.03" y2="195.70" stroke="#555" stroke-width="0.5"/>
<text class="t c" transform="translate(448.63 195.80) rotate(-90)" font-size="4.15" text-anchor="end">Decanal</text>
<line x1="457.58" y1="194.60" x2="457.58" y2="195.70" stroke="#555" stroke-width="0.5"/>
<text class="t c" transform="translate(459.18 195.80) rotate(-90)" font-size="4.15" text-anchor="end">Linalool</text>
<line x1="468.12" y1="194.60" x2="468.12" y2="195.70" stroke="#555" stroke-width="0.5"/>
<text class="t c" transform="translate(469.73 195.80) rotate(-90)" font-size="4.15" text-anchor="end">Nonanal</text>
<line x1="478.67" y1="194.60" x2="478.67" y2="195.70" stroke="#555" stroke-width="0.5"/>
<text class="t c" transform="translate(480.27 195.80) rotate(-90)" font-size="4.15" text-anchor="end">Methyl 11-methyldodecanoate</text>
<line x1="489.21" y1="194.60" x2="489.21" y2="195.70" stroke="#555" stroke-width="0.5"/>
<text class="t c" transform="translate(490.81 195.80) rotate(-90)" font-size="4.15" text-anchor="end">Toluene</text>
<line x1="499.76" y1="194.60" x2="499.76" y2="195.70" stroke="#555" stroke-width="0.5"/>
<text class="t c" transform="translate(501.36 195.80) rotate(-90)" font-size="4.15" text-anchor="end">Methyl nonanoate</text>
<line x1="510.30" y1="194.60" x2="510.30" y2="195.70" stroke="#555" stroke-width="0.5"/>
<text class="t c" transform="translate(511.90 195.80) rotate(-90)" font-size="4.15" text-anchor="end">Octane</text>
<line x1="520.85" y1="194.60" x2="520.85" y2="195.70" stroke="#555" stroke-width="0.5"/>
<text class="t c" transform="translate(522.45 195.80) rotate(-90)" font-size="4.15" text-anchor="end">2-Methyl-5-pentyltetrahydrofuran</text>
<line x1="531.39" y1="194.60" x2="531.39" y2="195.70" stroke="#555" stroke-width="0.5"/>
<text class="t c" transform="translate(533.00 195.80) rotate(-90)" font-size="4.15" text-anchor="end">Methyl palmitate</text>
<line x1="541.94" y1="194.60" x2="541.94" y2="195.70" stroke="#555" stroke-width="0.5"/>
<text class="t c" transform="translate(543.54 195.80) rotate(-90)" font-size="4.15" text-anchor="end">cis-5-Ethenyltetrahydro-α,α-5-trimethyl-2-furanmethanol</text>
</g>
</g>
</svg></body></html>
